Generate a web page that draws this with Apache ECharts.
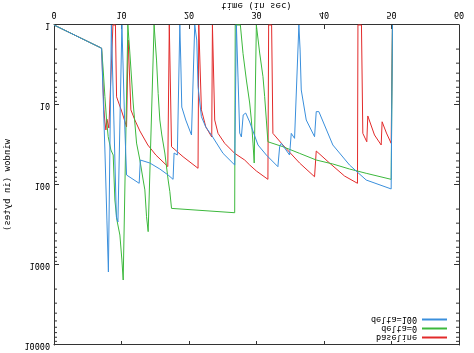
<!DOCTYPE html>
<html>
<head>
<meta charset="utf-8">
<script src="https://cdn.jsdelivr.net/npm/echarts@6/dist/echarts.min.js"></script>
<style>
  html, body { margin: 0; padding: 0; background: #fff; }
  /* the reference is a gnuplot plot mirrored top to bottom */
  #chart { width: 474px; height: 353px; transform: scaleY(-1); }
</style>
</head>
<body>
<div id="chart"></div>
<script>
// time (s), window
const baseline = [[0,1],[7.05,1.95],[7.40,11.5],[7.54,16.3],[7.69,20.5],[7.84,15.0],[8.13,19.4],
  [8.73,1],[9.10,1],[9.27,7.9],[10.06,12.2],[10.75,18.7],[10.99,1.54],[11.39,11.5],[11.98,15.4],
  [12.72,21.1],[13.9,31.6],[15.09,42.2],[16.86,58.7],[17.08,1],[17.30,1],[17.41,33.2],[19.12,44.3],
  [21.34,61.8],[21.45,1],[21.59,1],[21.84,11.5],[22.49,18.8],[23.37,25.1],[23.47,1],[23.66,1],
  [23.81,15.4],[24.30,22.6],[25.29,30.1],[26.77,40.2],[28.25,48.7],[28.99,56.2],[29.98,66.8],
  [31.69,84.9],[31.80,1],[32.24,1],[32.43,22.6],[33.91,31.6],[36.38,53.1],[38.60,78.8],[38.85,37.6],
  [40.82,53.1],[43.04,77.2],[44.96,95.2],[45.03,1],[45.55,1],[45.75,22.6],[46.34,28.8],[46.49,13.7],
  [47.48,23.7],[48.47,31.6],[48.61,16.2],[49.25,22.4],[49.95,30.1],[50.14,1]];

const delta0 = [[0,1],[7.05,1.95],[7.29,3.65],[7.54,7.87],[7.79,15.4],[8.03,24.9],[8.43,36.5],
  [8.77,42.2],[9.02,154],[9.32,274],[9.76,422],[10.06,866],[10.25,1540],[10.50,1540],[10.94,1],
  [11.24,2.24],[11.73,9.44],[12.23,29.9],[12.72,48.7],[13.21,86.6],[13.46,115],[13.71,249],
  [13.95,383],[14.20,383],[14.83,1],[15.19,2.74],[15.43,7.14],[15.68,15.4],[15.97,23.7],[16.42,39.8],
  [16.91,86.6],[17.16,121],[17.41,196],[26.77,222],[26.85,1],[27.61,1],[28.00,2.26],[28.50,4.87],
  [28.99,9.44],[29.24,15.4],[29.48,29.9],[29.66,53.1],[29.98,1],[30.47,2.24],[30.96,4.43],
  [31.21,7.87],[31.46,15.4],[31.69,28.8],[33.91,33.2],[36.38,40.2],[38.85,48.7],[41.31,54.6],
  [43.78,63.1],[46.25,71.4],[49.95,84.9],[50.14,1]];

const delta100 = [[0,1],[7.05,1.95],[7.25,6.49],[7.54,36.5],[7.84,274],[8.06,1223],[8.50,1],
  [8.87,15.4],[9.24,251],[9.47,290],[9.76,274],[10.06,1],[10.21,2.74],[10.50,20.5],[10.75,75],
  [12.62,95.2],[12.79,48.7],[12.97,46.4],[14.20,53.1],[15.68,63.1],[16.91,75],[17.64,84.9],
  [17.79,39.8],[18.27,42.2],[18.64,1],[18.78,2.74],[18.93,10.6],[19.52,15.4],[20.37,23.7],[20.85,1],
  [21.15,1.54],[21.34,5.9],[21.84,14.0],[22.48,18.8],[23.32,23.7],[25.04,40.2],[26.77,56.2],
  [27.02,1],[27.26,4.47],[27.51,22.4],[27.76,25.1],[28.03,13.3],[28.40,12.6],[28.99,16.3],
  [30.22,31.6],[31.46,42.2],[33.17,59.0],[33.43,33.2],[33.68,30.1],[34.90,42.2],[35.15,22.6],
  [35.39,21.6],[35.64,26.1],[36.28,1],[36.46,2.05],[36.63,6.49],[37.37,15.4],[38.60,24.9],
  [38.85,12.1],[39.24,12.1],[41.31,31.6],[43.78,56.2],[46.25,86.6],[49.95,112],[50.14,1]];

const seriesNames = ['baseline', 'delta=0', 'delta=100'];
const seriesColors = ['#e22a2a', '#3cb83c', '#3a8fdc'];
const yMinorTicks = [2,3,4,5,6,7,8,9,20,30,40,50,60,70,80,90,200,300,400,500,600,700,800,900,
  2000,3000,4000,5000,6000,7000,8000,9000];

const font = 'DejaVu Sans Mono';
const axisColor = '#333';

function xAxisBox(pos, labels) {
  return {
    type: 'value', min: 0, max: 60, interval: 10, position: pos,
    axisLine: { show: true, onZero: false, lineStyle: { color: axisColor } },
    axisTick: { show: true, inside: true, length: 4, lineStyle: { color: axisColor } },
    axisLabel: { show: labels, fontFamily: font, fontSize: 8.5, color: '#000', margin: 6 },
    splitLine: { show: false }
  };
}
function yAxisBox(pos, labels) {
  return {
    type: 'log', logBase: 10, min: 1, max: 10000, position: pos,
    axisLine: { show: true, onZero: false, lineStyle: { color: axisColor } },
    axisTick: { show: true, inside: true, length: 5, lineStyle: { color: axisColor } },
    axisLabel: { show: labels, fontFamily: font, fontSize: 8.5, color: '#000', margin: 4,
      formatter: v => String(Math.round(v)) },
    splitLine: { show: false }
  };
}

let chart = echarts.init(document.getElementById('chart'));
let xBottom = xAxisBox('bottom', true);
xBottom.name = 'time (in sec)';
xBottom.nameLocation = 'middle';
xBottom.nameGap = 15;
xBottom.nameMoveOverlap = false;
xBottom.nameTextStyle = { fontFamily: font, fontSize: 9, color: '#000' };
let yLeft = yAxisBox('left', true);
yLeft.name = 'window (in bytes)';
yLeft.nameLocation = 'middle';
yLeft.nameGap = 42;
yLeft.nameMoveOverlap = false;
yLeft.nameTextStyle = { fontFamily: font, fontSize: 9, color: '#000' };

let lines = [baseline, delta0, delta100].map((d, i) => ({
  name: seriesNames[i],
  type: 'line',
  data: d,
  symbol: 'none',
  clip: false,
  lineStyle: { width: 1, color: seriesColors[i] },
  itemStyle: { color: seriesColors[i] }
}));

chart.setOption({
  animation: false,
  grid: { left: 54, right: 15, top: 8, bottom: 25, containLabel: false, outerBoundsMode: 'none' },
  legend: {
    orient: 'vertical', align: 'right', right: 26, top: 11, padding: 0,
    itemWidth: 25, itemHeight: 8, itemGap: 0,
    itemStyle: { opacity: 0 },
    textStyle: { fontFamily: font, fontSize: 8.5, color: '#000', lineHeight: 8 },
    data: seriesNames
  },
  xAxis: [xBottom, xAxisBox('top', false)],
  yAxis: [yLeft, yAxisBox('right', false)],
  series: lines.concat([{
    // gnuplot style minor ticks on both sides of the log axis
    type: 'custom',
    silent: true,
    z: 5,
    data: yMinorTicks.map(v => [0, v]),
    renderItem: function (params, api) {
      let v = api.value(1);
      let p0 = api.coord([0, v]);
      let p1 = api.coord([60, v]);
      let st = { stroke: axisColor, lineWidth: 1 };
      return {
        type: 'group',
        children: [
          { type: 'line', shape: { x1: p0[0], y1: p0[1], x2: p0[0] + 3, y2: p0[1] }, style: st },
          { type: 'line', shape: { x1: p1[0] - 3, y1: p1[1], x2: p1[0], y2: p1[1] }, style: st }
        ]
      };
    }
  }])
});
</script>
</body>
</html>
